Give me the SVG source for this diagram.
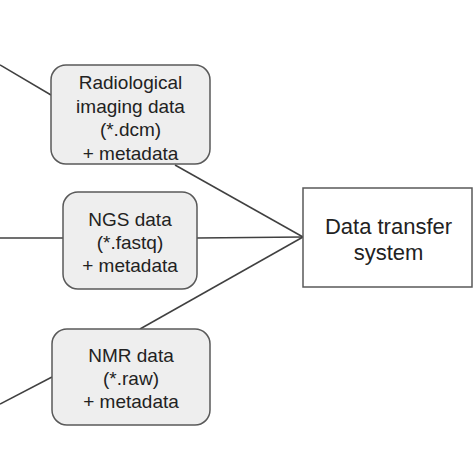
<svg xmlns="http://www.w3.org/2000/svg" width="474" height="474" viewBox="0 0 474 474">
<style>
.box{fill:#eeeeee;stroke:#595959;stroke-width:1.5}
.sys{fill:#ffffff;stroke:#595959;stroke-width:1.5}
.lbl{font-family:"Liberation Sans",Arial,sans-serif;font-size:19px;fill:#222222;text-anchor:middle}
.big{font-size:22px}
.conn line{stroke:#404040;stroke-width:1.5}
</style>
<rect width="474" height="474" fill="#ffffff"/>
<g id="connectors" class="conn">
<line x1="0" y1="65" x2="51" y2="95"/>
<line x1="175" y1="165" x2="303" y2="237"/>
<line x1="0" y1="238" x2="63" y2="238"/>
<line x1="197" y1="238" x2="303" y2="237"/>
<line x1="140" y1="329" x2="303" y2="237"/>
<line x1="0" y1="404" x2="52" y2="377"/>
</g>
<g id="radiological">
<rect class="box" x="51" y="65" width="159" height="99" rx="15"/>
<text class="lbl" x="130.5" y="89">Radiological</text>
<text class="lbl" x="130.5" y="112.5">imaging data</text>
<text class="lbl" x="130.5" y="136">(*.dcm)</text>
<text class="lbl" x="130.5" y="159.5">+ metadata</text>
</g>
<g id="ngs">
<rect class="box" x="63" y="192" width="134" height="97" rx="15"/>
<text class="lbl" x="130" y="226">NGS data</text>
<text class="lbl" x="130" y="249">(*.fastq)</text>
<text class="lbl" x="130" y="272">+ metadata</text>
</g>
<g id="nmr">
<rect class="box" x="52" y="329" width="158" height="96" rx="15"/>
<text class="lbl" x="131" y="362">NMR data</text>
<text class="lbl" x="131" y="385">(*.raw)</text>
<text class="lbl" x="131" y="408">+ metadata</text>
</g>
<g id="transfer">
<rect class="sys" x="303" y="188" width="169" height="99"/>
<text class="lbl big" x="388.5" y="233.5">Data transfer</text>
<text class="lbl big" x="388.5" y="259.5">system</text>
</g>
</svg>
